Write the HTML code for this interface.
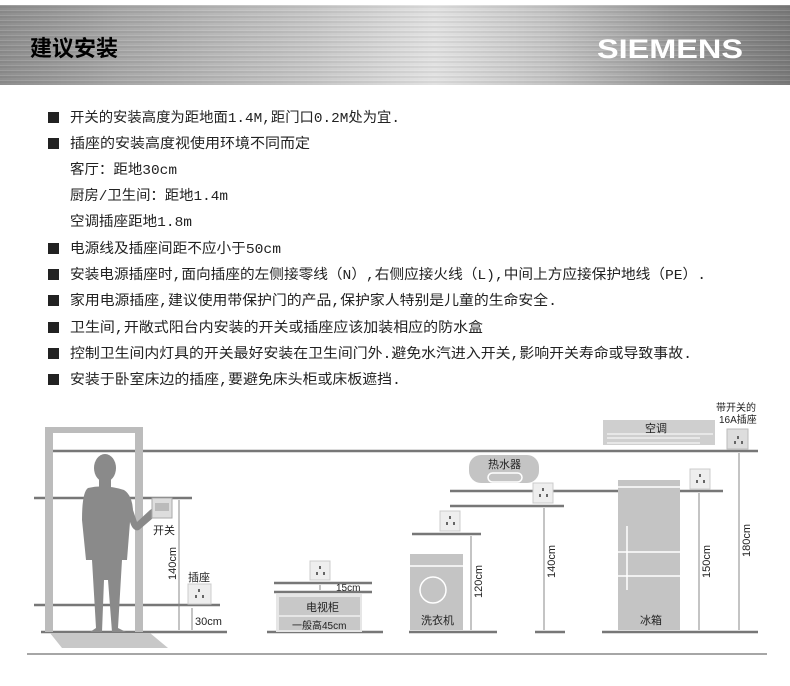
<!DOCTYPE html>
<html><head><meta charset="utf-8"><style>
html,body{margin:0;padding:0;background:#fff;}
body{width:790px;height:686px;position:relative;overflow:hidden;font-family:"Liberation Sans","Noto Sans CJK SC",sans-serif;}
.hdr{position:absolute;left:0;top:5px;width:790px;height:80px;
background:linear-gradient(90deg,#8e8e8e 0%,#a8a8a8 15%,#c8c8c8 40%,#e2e2e2 55%,#c4c4c4 70%,#9a9a9a 85%,#7a7a7a 100%);}
.hdr:after{content:"";position:absolute;inset:0;background:repeating-linear-gradient(180deg,rgba(255,255,255,.12) 0 1px,rgba(0,0,0,.05) 1px 3px,rgba(255,255,255,0) 3px 5px);}
</style></head><body>
<div class="hdr"></div>
<svg width="790" height="686" style="position:absolute;left:0;top:0" xmlns="http://www.w3.org/2000/svg">
<g font-family="Liberation Sans, Noto Sans CJK SC, sans-serif">
<text x="30" y="56" font-size="22" font-weight="bold" fill="#000">建议安装</text>
<text x="597" y="58" font-size="27" font-weight="bold" fill="#fff" textLength="146" lengthAdjust="spacingAndGlyphs">SIEMENS</text>
</g>
<g font-family="Liberation Mono, Noto Sans CJK SC, sans-serif" font-size="14" fill="#222">
<rect x="48" y="112" width="11" height="11" fill="#222"/>
<text x="70" y="122" textLength="330" lengthAdjust="spacingAndGlyphs">开关的安装高度为距地面1.4M,距门口0.2M处为宜.</text>
<rect x="48" y="138" width="11" height="11" fill="#222"/>
<text x="70" y="148" textLength="240" lengthAdjust="spacingAndGlyphs">插座的安装高度视使用环境不同而定</text>
<text x="70" y="174" textLength="107" lengthAdjust="spacingAndGlyphs">客厅：距地30cm</text>
<text x="70" y="200" textLength="158" lengthAdjust="spacingAndGlyphs">厨房/卫生间：距地1.4m</text>
<text x="70" y="226" textLength="122" lengthAdjust="spacingAndGlyphs">空调插座距地1.8m</text>
<rect x="48" y="243" width="11" height="11" fill="#222"/>
<text x="70" y="253" textLength="211" lengthAdjust="spacingAndGlyphs">电源线及插座间距不应小于50cm</text>
<rect x="48" y="269" width="11" height="11" fill="#222"/>
<text x="70" y="279" textLength="636" lengthAdjust="spacingAndGlyphs">安装电源插座时,面向插座的左侧接零线（N）,右侧应接火线（L),中间上方应接保护地线（PE）.</text>
<rect x="48" y="295" width="11" height="11" fill="#222"/>
<text x="70" y="305" textLength="487" lengthAdjust="spacingAndGlyphs">家用电源插座,建议使用带保护门的产品,保护家人特别是儿童的生命安全.</text>
<rect x="48" y="322" width="11" height="11" fill="#222"/>
<text x="70" y="332" textLength="413" lengthAdjust="spacingAndGlyphs">卫生间,开敞式阳台内安装的开关或插座应该加装相应的防水盒</text>
<rect x="48" y="348" width="11" height="11" fill="#222"/>
<text x="70" y="358" textLength="622" lengthAdjust="spacingAndGlyphs">控制卫生间内灯具的开关最好安装在卫生间门外.避免水汽进入开关,影响开关寿命或导致事故.</text>
<rect x="48" y="374" width="11" height="11" fill="#222"/>
<text x="70" y="384" textLength="331" lengthAdjust="spacingAndGlyphs">安装于卧室床边的插座,要避免床头柜或床板遮挡.</text>
</g>

<!-- diagram -->
<g stroke="#777" stroke-width="2.5" fill="none">
<line x1="53" y1="451" x2="758" y2="451"/>
<line x1="34" y1="498" x2="192" y2="498"/>
<line x1="34" y1="605" x2="220" y2="605"/>
<line x1="41" y1="632" x2="227" y2="632"/>
<line x1="274" y1="583" x2="372" y2="583"/>
<line x1="274" y1="592" x2="372" y2="592"/>
<line x1="267" y1="632" x2="383" y2="632"/>
<line x1="450" y1="491" x2="723" y2="491"/>
<line x1="450" y1="506" x2="564" y2="506"/>
<line x1="412" y1="534" x2="481" y2="534"/>
<line x1="409" y1="632" x2="497" y2="632"/>
<line x1="535" y1="632" x2="565" y2="632"/>
<line x1="602" y1="632" x2="758" y2="632"/>
</g>
<line x1="27" y1="654" x2="767" y2="654" stroke="#888" stroke-width="1.5"/>
<!-- door -->
<path d="M45 632V427H143V632H135V433H53V632Z" fill="#bcbcbc"/>
<polygon points="50,633 150,633 168,648 62,648" fill="#c8c8c8"/>
<!-- person -->
<g fill="#8a8a8a">
<ellipse cx="105" cy="468" rx="11" ry="14"/>
<rect x="99" y="478" width="12" height="10"/>
<path d="M88 488 Q105 484 124 490 Q132 495 133 510 L137 522 L150 510 L156 506 L160 512 L139 530 Q133 532 130 522 L127 560 L122 560 L118 628 L126 632 L112 632 L108 580 L104 580 L102 632 L90 632 L96 628 L92 560 L86 560 L82 520 Q82 492 88 488Z"/>
</g>
<!-- switch -->
<rect x="152" y="498" width="20" height="20" fill="#ddd" stroke="#aaa"/>
<rect x="155" y="503" width="14" height="8" fill="#bbb"/>
<g font-family="Liberation Sans, Noto Sans CJK SC, sans-serif" font-size="11" fill="#222">
<text x="153" y="534">开关</text>
<text x="188" y="581">插座</text>
<text x="195" y="625">30cm</text>
<text x="336" y="591" font-size="10">15cm</text>
<text x="306" y="611" font-size="11">电视柜</text>
<text x="292" y="629" font-size="10">一般高45cm</text>
<text x="645" y="432" font-size="11">空调</text>
<text x="716" y="411" font-size="10">带开关的</text>
<text x="719" y="423" font-size="10">16A插座</text>
<text x="488" y="468" font-size="11">热水器</text>
<text x="421" y="624" font-size="11">洗衣机</text>
<text x="640" y="624" font-size="11">冰箱</text>
<text transform="translate(176,580) rotate(-90)" font-size="11">140cm</text>
<text transform="translate(482,598) rotate(-90)" font-size="11">120cm</text>
<text transform="translate(555,578) rotate(-90)" font-size="11">140cm</text>
<text transform="translate(710,578) rotate(-90)" font-size="11">150cm</text>
<text transform="translate(750,557) rotate(-90)" font-size="11">180cm</text>
</g>
<!-- arrows -->
<g stroke="#888" stroke-width="1" fill="#888">
<line x1="179" y1="500" x2="179" y2="630"/>
<line x1="192" y1="608" x2="192" y2="630"/>
<line x1="320" y1="585" x2="320" y2="590"/>
<line x1="471" y1="536" x2="471" y2="630"/>
<line x1="544" y1="508" x2="544" y2="630"/>
<line x1="699" y1="493" x2="699" y2="630"/>
<line x1="739" y1="453" x2="739" y2="630"/>
</g>
<!-- sockets -->
<g>
<rect x="188" y="584" width="23" height="20" fill="#eee" stroke="#ccc"/>
<rect x="310" y="561" width="20" height="19" fill="#eee" stroke="#ccc"/>
<rect x="440" y="511" width="20" height="20" fill="#eee" stroke="#ccc"/>
<rect x="533" y="483" width="20" height="20" fill="#eee" stroke="#ccc"/>
<rect x="690" y="469" width="20" height="20" fill="#eee" stroke="#ccc"/>
<rect x="727" y="429" width="21" height="20" fill="#ddd" stroke="#bbb"/>
</g>
<g fill="#666">
<rect x="198" y="589" width="2" height="3"/><rect x="195" y="595" width="2" height="3"/><rect x="202" y="595" width="2" height="3"/>
<rect x="319" y="566" width="2" height="3"/><rect x="316" y="572" width="2" height="3"/><rect x="323" y="572" width="2" height="3"/>
<rect x="449" y="516" width="2" height="3"/><rect x="446" y="522" width="2" height="3"/><rect x="453" y="522" width="2" height="3"/>
<rect x="542" y="488" width="2" height="3"/><rect x="539" y="494" width="2" height="3"/><rect x="546" y="494" width="2" height="3"/>
<rect x="699" y="474" width="2" height="3"/><rect x="696" y="480" width="2" height="3"/><rect x="703" y="480" width="2" height="3"/>
<rect x="737" y="436" width="2" height="3"/><rect x="734" y="441" width="2" height="3"/><rect x="741" y="441" width="2" height="3"/>
</g>
<!-- tv cabinet -->
<rect x="276" y="594" width="86" height="38" fill="#e6e6e6"/>
<rect x="279" y="597" width="81" height="18" fill="#c8c8c8"/>
<rect x="279" y="617" width="81" height="13" fill="#c8c8c8"/>
<!-- AC -->
<rect x="603" y="420" width="112" height="25" fill="#cfcfcf"/>
<g stroke="#fff" stroke-width="1"><line x1="607" y1="434" x2="713" y2="434"/><line x1="607" y1="438" x2="700" y2="438"/><line x1="607" y1="443" x2="700" y2="443"/></g>
<!-- water heater -->
<rect x="469" y="455" width="70" height="28" rx="12" fill="#c4c4c4"/>
<rect x="488" y="473" width="34" height="9" rx="4.5" fill="none" stroke="#fff" stroke-width="1.5"/>
<!-- washer -->
<rect x="410" y="554" width="53" height="76" fill="#c4c4c4"/>
<line x1="410" y1="566" x2="463" y2="566" stroke="#fff" stroke-width="1.5"/>
<circle cx="433" cy="590" r="13" fill="none" stroke="#fff" stroke-width="1.5"/>
<!-- fridge -->
<rect x="618" y="480" width="62" height="150" fill="#c4c4c4"/>
<g stroke="#fff" stroke-width="1.5"><line x1="618" y1="487" x2="680" y2="487"/><line x1="618" y1="552" x2="680" y2="552"/><line x1="618" y1="576" x2="680" y2="576"/><line x1="627" y1="526" x2="627" y2="590"/></g>
<g font-family="Liberation Sans, Noto Sans CJK SC, sans-serif" font-size="11" fill="#222">
<text x="640" y="624">冰箱</text><text x="421" y="624">洗衣机</text><text x="488" y="468">热水器</text><text x="645" y="432">空调</text>
<text x="306" y="611">电视柜</text><text x="292" y="629" font-size="10">一般高45cm</text>
</g>
</svg>
</body></html>
